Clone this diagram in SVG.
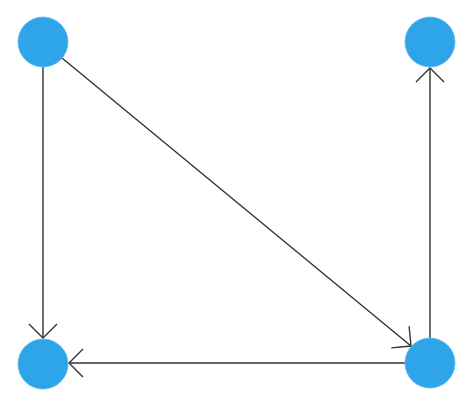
<svg xmlns="http://www.w3.org/2000/svg" width="474" height="407" viewBox="0 0 474 407">
<defs>
<style>
.node{fill:#2ea5e8;stroke:#5db8ea;stroke-width:0.8}
.edge{fill:none;stroke:#333333;stroke-width:1.4}
.head{fill:none;stroke:#333333;stroke-width:1.4}
</style>
<marker id="arr" viewBox="-16 -16 18 32" markerWidth="18" markerHeight="32" refX="0" refY="0" markerUnits="userSpaceOnUse" orient="auto" overflow="visible">
<path class="head" d="M-14,-14 L0,0 L-14,14"/>
</marker>
</defs>
<rect width="474" height="407" fill="#ffffff"/>
<g id="connectors">
<line class="edge" x1="43" y1="67" x2="43" y2="338" marker-end="url(#arr)"/>
<line class="edge" x1="62" y1="58" x2="411" y2="346" marker-end="url(#arr)"/>
<line class="edge" x1="430" y1="338" x2="430" y2="68" marker-end="url(#arr)"/>
<line class="edge" x1="405" y1="363" x2="69" y2="363" marker-end="url(#arr)"/>
</g>
<g id="node-tl"><circle class="node" cx="43" cy="42" r="25"/></g>
<g id="node-tr"><circle class="node" cx="430" cy="42" r="25"/></g>
<g id="node-bl"><circle class="node" cx="43" cy="364" r="25"/></g>
<g id="node-br"><circle class="node" cx="430" cy="363" r="25"/></g>
</svg>
